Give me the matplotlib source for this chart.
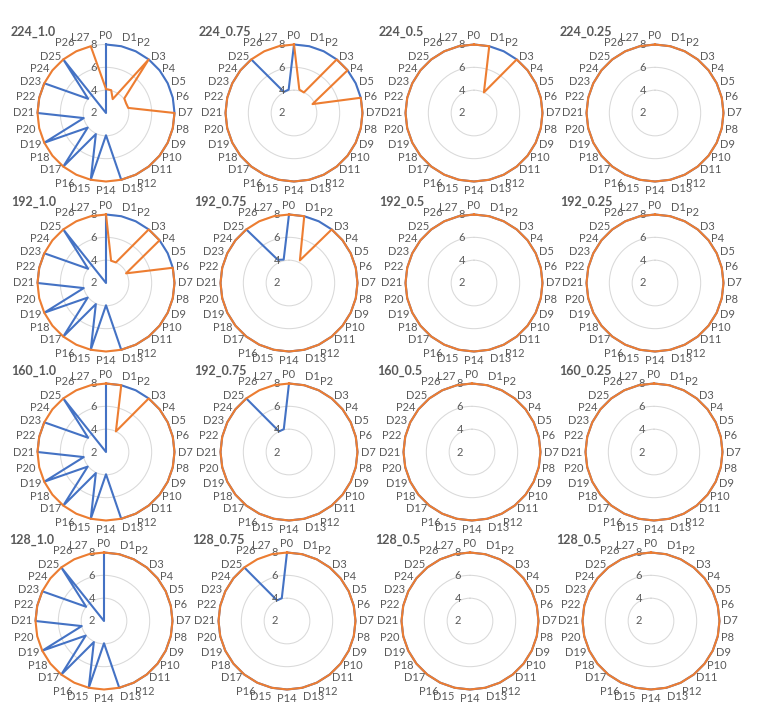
import matplotlib
matplotlib.use('Agg')
import numpy as np
import matplotlib.pyplot as plt

plt.rcParams['font.family'] = ['Lato', 'DejaVu Sans']

cats = ['P0', 'D1', 'P2', 'D3', 'P4', 'D5', 'P6', 'D7', 'P8', 'D9', 'P10',
        'D11', 'P12', 'D13', 'P14', 'D15', 'P16', 'D17', 'P18', 'D19', 'P20',
        'D21', 'P22', 'D23', 'P24', 'D25', 'P26', 'L27']

titles = ['224_1.0', '224_0.75', '224_0.5', '224_0.25',
          '192_1.0', '192_0.75', '192_0.5', '192_0.25',
          '160_1.0', '192_0.75', '160_0.5', '160_0.25',
          '128_1.0', '128_0.75', '128_0.5', '128_0.5']

# blue series
blue_all8 = [8, 8, 8, 8, 8, 8, 8, 8, 8, 8, 8, 8, 8, 8,
             8, 8, 8, 8, 8, 8, 8, 8, 8, 8, 8, 8, 8, 8]
blue_w10 = [8, 8, 8, 8, 8, 8, 8, 8, 8, 8, 8, 8, 8, 8,
            3.95, 8, 4.05, 8, 4.05, 8, 4.0, 8, 8, 8, 4.0, 8, 2, 2]
blue_224_075 = [8, 8, 8, 8, 8, 8, 8, 8, 8, 8, 8, 8, 8, 8,
                8, 8, 8, 8, 8, 8, 8, 8, 8, 8, 8, 8, 4.05, 4.1]
blue_192_075 = [8, 8, 8, 8, 8, 8, 8, 8, 8, 8, 8, 8, 8, 8,
                8, 8, 8, 8, 8, 8, 8, 8, 8, 8, 8, 8, 4.25, 4.1]
blue_w075 = [8, 8, 8, 8, 8, 8, 8, 8, 8, 8, 8, 8, 8, 8,
             8, 8, 8, 8, 8, 8, 8, 8, 8, 8, 8, 8, 4.0, 4.05]

# orange series
orange_all8 = [8, 8, 8, 8, 8, 8, 8, 8, 8, 8, 8, 8, 8, 8,
               8, 8, 8, 8, 8, 8, 8, 8, 8, 8, 8, 8, 8, 8]
orange_224_10 = [4.1, 4.05, 3.35, 8, 4.05, 3.95, 4.0, 8, 8, 8, 8, 8, 8, 8,
                 8, 8, 8, 8, 8, 8, 8, 8, 8, 8, 8, 8, 8, 8]
orange_224_075 = [8, 4.1, 4.0, 8, 8, 3.8, 8, 8, 8, 8, 8, 8, 8, 8,
                  8, 8, 8, 8, 8, 8, 8, 8, 8, 8, 8, 8, 8, 8]
orange_224_05 = [8, 8, 4.0, 8, 8, 8, 8, 8, 8, 8, 8, 8, 8, 8,
                 8, 8, 8, 8, 8, 8, 8, 8, 8, 8, 8, 8, 8, 8]
orange_192_10 = [8, 4.0, 4.0, 8, 8, 3.95, 8, 8, 8, 8, 8, 8, 8, 8,
                 8, 8, 8, 8, 8, 8, 8, 8, 8, 8, 8, 8, 8, 8]
orange_192_075 = [8, 8, 4.2, 8, 8, 8, 8, 8, 8, 8, 8, 8, 8, 8,
                  8, 8, 8, 8, 8, 8, 8, 8, 8, 8, 8, 8, 8, 8]
orange_160_10 = [8, 8, 4.0, 8, 8, 8, 8, 8, 8, 8, 8, 8, 8, 8,
                 8, 8, 8, 8, 8, 8, 8, 8, 8, 8, 8, 8, 8, 8]

blue_sets = [blue_w10, blue_224_075, blue_all8, blue_all8,
             blue_w10, blue_192_075, blue_all8, blue_all8,
             blue_w10, blue_w075, blue_all8, blue_all8,
             blue_w10, blue_w075, blue_all8, blue_all8]
orange_sets = [orange_224_10, orange_224_075, orange_224_05, orange_all8,
               orange_192_10, orange_192_075, orange_all8, orange_all8,
               orange_160_10, orange_all8, orange_all8, orange_all8,
               orange_all8, orange_all8, orange_all8, orange_all8]

rticks = [2, 4, 6, 8]

W, H = 758, 720
fig = plt.figure(figsize=(W / 100, H / 100), dpi=100)
fig.patch.set_facecolor('white')

# chart centres in pixels (Excel charts were placed by hand)
cx = [[106, 294, 474, 655],
      [106, 289, 474, 655],
      [106, 289, 472, 654],
      [104, 287, 470, 651]]
cy = [113, 283, 452, 621]
R = 68.5

grey = '#595959'
theta = 2 * np.pi * np.arange(len(cats)) / len(cats)
th_closed = np.append(theta, theta[0])

for i in range(16):
    row, col = i // 4, i % 4
    x0, y0 = cx[row][col], cy[row]
    ax = fig.add_axes([(x0 - R) / W, 1 - (y0 + R) / H, 2 * R / W, 2 * R / H],
                      projection='polar')
    ax.set_theta_zero_location('N')
    ax.set_theta_direction(-1)
    ax.set_ylim(2, 8)
    ax.set_xticks([])
    ax.set_yticks([4, 6])
    ax.set_yticklabels([])
    ax.yaxis.grid(True, color='#D9D9D9', lw=0.75)
    ax.spines['polar'].set_color('#D9D9D9')
    ax.spines['polar'].set_linewidth(0.75)
    ax.set_facecolor('none')

    b = blue_sets[i]
    o = orange_sets[i]
    ax.plot(th_closed, b + b[:1], color='#4472C4', lw=1.5, clip_on=False, zorder=3)
    ax.plot(th_closed, o + o[:1], color='#ED7D31', lw=1.5, clip_on=False, zorder=4)

    for t, lab in zip(theta, cats):
        s, c = np.sin(t), np.cos(t)
        ha = 'left' if s > 0.05 else ('right' if s < -0.05 else 'center')
        va = 'bottom' if c > 0.9 else ('top' if c < -0.9 else 'center')
        ax.annotate(lab, xy=(t, 8), xytext=(3.5 * s, 3.5 * c),
                    textcoords='offset pixels', ha=ha, va=va,
                    fontsize=8, color=grey, annotation_clip=False)
    for v in rticks:
        ax.annotate(str(v), xy=(0, v), xytext=(-9, 0), textcoords='offset pixels',
                    ha='right', va='center', fontsize=8, color=grey,
                    annotation_clip=False)

    fig.text((x0 - 95) / W, 1 - (y0 - 81) / H, titles[i], fontsize=9,
             fontweight='bold', color=grey, ha='left', va='center')

fig.savefig('out.png', dpi=100, facecolor='white')
